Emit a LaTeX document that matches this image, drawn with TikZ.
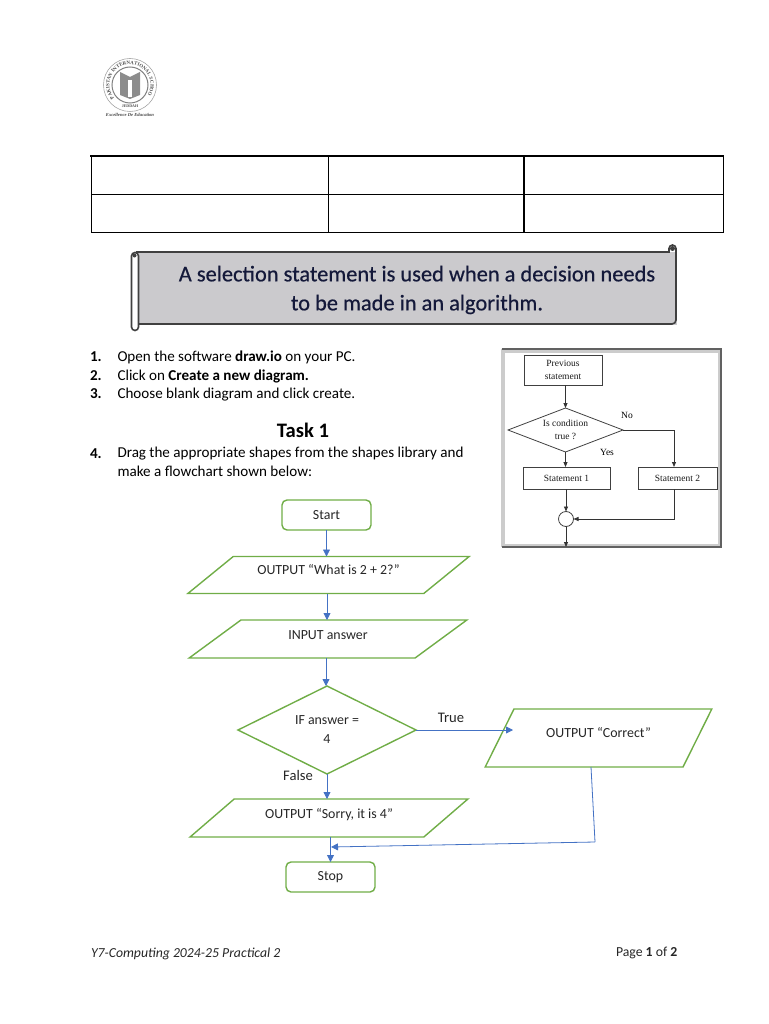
\documentclass[tikz,border=0pt]{standalone}
\usepackage{fontspec}
\setmainfont{Carlito}
\newfontfamily\oldfont{Liberation Serif}
\newfontfamily\bannerfont{Carlito}[BoldFont=Carlito, BoldFeatures={FakeBold=0.5}]
\usepackage{tikz}
\usetikzlibrary{calc,arrows.meta}
\usetikzlibrary{shapes.geometric}
\usetikzlibrary{decorations.text}
\definecolor{fc-green}{HTML}{70AD47}
\definecolor{fc-blue}{HTML}{4472C4}
\definecolor{fc-navy}{HTML}{14193A}
\definecolor{fc-scroll}{HTML}{CBCACD}
\definecolor{fc-ink}{HTML}{262626}
\newcommand{\bodytext}{\fontsize{15.1}{18.5}\selectfont}
\newcommand{\flowtext}{\fontsize{13.9}{19}\selectfont}
\newcommand{\oldtext}{\oldfont\fontsize{9.5}{13.5}\selectfont}
\newcommand{\up}[2]{\raisebox{#1pt}{#2}}
\tikzset{
    termbox/.style={draw=fc-green, line width=1.4pt, rounded corners=5pt, rectangle, minimum width=89pt, minimum height=30pt, inner sep=0pt, outer sep=0pt, font=\flowtext, text=fc-ink},
    iobox/.style={draw=fc-green, line width=1.4pt, trapezium, trapezium stretches=true, inner sep=0pt, outer sep=0pt, font=\flowtext, text=fc-ink},
    decbox/.style={draw=fc-green, line width=1.4pt, diamond, aspect=2, minimum width=178pt, minimum height=88pt, inner sep=0pt, outer sep=0pt, font=\flowtext, text=fc-ink, align=center},
    link/.style={draw=fc-blue, line width=0.8pt, -{Triangle[length=7pt,width=7pt]}},
    oldbox/.style={draw=black!75, line width=0.8pt, rectangle, inner sep=0pt, outer sep=0pt, font=\oldtext, text=black!90, align=center},
    oldlink/.style={draw=black!80, line width=0.8pt, -{Triangle[length=5pt,width=4pt]}},
    plain/.style={inner sep=0pt, outer sep=0pt, font=\bodytext, text=black, anchor=west}
}
\begin{document}
\begin{tikzpicture}[x=1pt,y=-1pt]
    \useasboundingbox (0,0) rectangle (768,1024);
    % Crest
    \draw[black!35, line width=0.6pt] (130,85) circle (26.5);
    \draw[black!50, line width=1pt] (130,85) circle (18);
    \fill[black!45] (120,72) -- (130,77) -- (140,72) -- (140,95) -- (130,99) -- (120,95) -- cycle;
    \fill[white] (128,80) rectangle (132,97);
    \path[decorate, decoration={text along path, text align=center, text={|\oldfont\fontsize{5}{5}\selectfont\bfseries\color{black!70}|PAKISTAN INTERNATIONAL SCHOOL}}] (112.2,95.25) arc[start angle=150, end angle=390, radius=20.5];
    \node[inner sep=0pt, font=\oldfont\fontsize{4}{4}\selectfont\bfseries, text=black!70] (crestcity) at (130,106) {JEDDAH};
    \node[inner sep=0pt, font=\oldfont\itshape\fontsize{4.6}{5}\selectfont\bfseries, text=black!75] (crestmotto) at (130,114.5) {Excellence De Education};
    % Header table
    \draw[black, line width=1pt] (91,156) rectangle (723,233);
    \draw[black, line width=2pt] (90,156) -- (724,156);
    \draw[black, line width=1pt] (91,195) -- (723,195);
    \draw[black, line width=1pt] (328,156) -- (328,233);
    \draw[black, line width=2pt] (524,156) -- (524,233);
    % Scroll banner
    \draw[fc-scroll, fill=fc-scroll] (136,252) rectangle (676,324);
    \draw[black!75, line width=1.6pt] (136,252) -- (669,252) -- (669,248.5) arc[start angle=180, end angle=360, radius=3.5] -- (676,320) arc[start angle=0, end angle=90, radius=4] -- (138,324);
    \draw[black!75, fill=white, line width=1.6pt] (131.5,256) arc[start angle=180, end angle=360, radius=3.5] -- (138.5,327) arc[start angle=0, end angle=180, radius=3.5] -- cycle;
    \fill[black!75] (134.5,255.5) circle (2);
    \fill[black!75] (672.5,248.5) circle (2.5);
    \node[inner sep=0pt, align=center, font=\fontsize{22.4}{29}\selectfont\bannerfont\bfseries, text=fc-navy] (bannertext) at (417,290) {A selection statement is used when a decision needs\\to be made in an algorithm.};
    % Numbered steps
    \node[plain, font=\bodytext\bfseries] (num1) at (90,357) {1.};
    \node[plain] (line1) at (117.5,357) {Open the software \textbf{draw.io} on your PC.};
    \node[plain, font=\bodytext\bfseries] (num2) at (90,376) {2.};
    \node[plain] (line2) at (117.5,376) {Click on \textbf{Create a new diagram.}};
    \node[plain, font=\bodytext\bfseries] (num3) at (90,393.5) {3.};
    \node[plain] (line3) at (117.5,394.5) {Choose blank diagram and click create.};
    \node[inner sep=0pt, font=\fontsize{20.6}{24}\selectfont\bfseries] (tasktitle) at (303,430) {Task 1};
    \node[plain, font=\bodytext\bfseries] (num4) at (90,454) {4.};
    \node[plain, align=left, anchor=north west] (line4) at (117.5,447.5) {Drag the appropriate shapes from the shapes library and\\make a flowchart shown below:};
    % Reference flowchart in a frame
    \draw[black!20, line width=3.5pt] (503,351) rectangle (719.5,545.5);
    \draw[black!62, line width=1.2pt] (501.5,349) -- (721,349) -- (721,547) -- (501.5,547);
    \node[oldbox, minimum width=78pt, minimum height=30pt] (prev) at (563,370) {Previous\\statement};
    \node[oldbox, diamond, aspect=2.6, minimum width=115pt, minimum height=44pt] (cond) at (565.5,430) {Is condition\\true ?};
    \node[oldbox, minimum width=87pt, minimum height=22pt] (stat1) at (566.5,478) {Statement 1};
    \node[oldbox, minimum width=79pt, minimum height=22pt] (stat2) at (677.5,478) {Statement 2};
    \node[oldbox, circle, fill=white, minimum size=15pt] (joint) at (566,519) {};
    \coordinate (frameout) at (566,547);
    \node[inner sep=0pt, font=\oldtext] (nolabel) at (627,415) {No};
    \node[inner sep=0pt, font=\oldtext] (yeslabel) at (607,452) {Yes};
    \draw[oldlink] (prev.south -| cond.north) -- (cond.north);
    \draw[oldlink] (cond.south) -- (cond.south |- stat1.north);
    \draw[oldlink] (cond.east) -- (674,430) -- (674,467);
    \draw[oldlink] (stat1.south -| joint.north) -- (joint.north);
    \draw[oldlink] (674,489) -- (674,519) -- (joint.east);
    \draw[oldlink] (joint.south) -- (frameout);
    % Task flowchart
    \node[termbox] (start) at (326.5,515) {\up{-2}{Start}};
    \node[iobox, minimum width=282pt, minimum height=37pt, trapezium left angle=33, trapezium right angle=147] (askq) at (328.5,575) {\up{12}{OUTPUT “What is 2 + 2?”}};
    \node[iobox, minimum width=278pt, minimum height=38pt, trapezium left angle=34, trapezium right angle=146] (input) at (328,639) {\up{7}{INPUT answer}};
    \node[decbox] (ifans) at (327,730) {IF answer =\\4};
    \node[iobox, minimum width=227pt, minimum height=58pt, trapezium left angle=51, trapezium right angle=129] (correct) at (598.5,738) {\up{12}{OUTPUT “Correct”}};
    \node[iobox, minimum width=278pt, minimum height=38pt, trapezium left angle=34, trapezium right angle=146] (sorry) at (329,818) {\up{10}{OUTPUT “Sorry, it is 4”}};
    \node[termbox] (stop) at (330.5,877) {\up{-4}{Stop}};
    \node[inner sep=0pt, font=\fontsize{14.6}{19}\selectfont, text=fc-ink] (truelabel) at (451,718) {True};
    \node[inner sep=0pt, font=\fontsize{14.6}{19}\selectfont, text=fc-ink] (falselabel) at (298,775) {False};
    \coordinate (bend) at (595,842);
    \coordinate (merge) at (331,847);
    \coordinate (correctout) at (591,767);
    \draw[link] (start.south) -- (start.south |- askq.top side);
    \draw[link] (327,594) -- (327,620);
    \draw[link] (326,658) -- (326,686);
    \draw[link] (ifans.south) -- (327,799);
    \draw[link] (ifans.east) -- (513,730);
    \draw[fc-blue, line width=0.8pt] (correctout) -- (bend);
    \draw[link] (bend) -- (merge);
    \draw[link] (330.5,837) -- (stop.north);
    % Footer
    \node[plain, font=\fontsize{13.75}{16}\selectfont\itshape, text=fc-ink] (footleft) at (91,954) {Y7-Computing 2024-25 Practical 2};
    \node[plain, font=\fontsize{13.75}{16}\selectfont, text=fc-ink] (footright) at (616,953) {Page \textbf{1} of \textbf{2}};
\end{tikzpicture}
\end{document}
